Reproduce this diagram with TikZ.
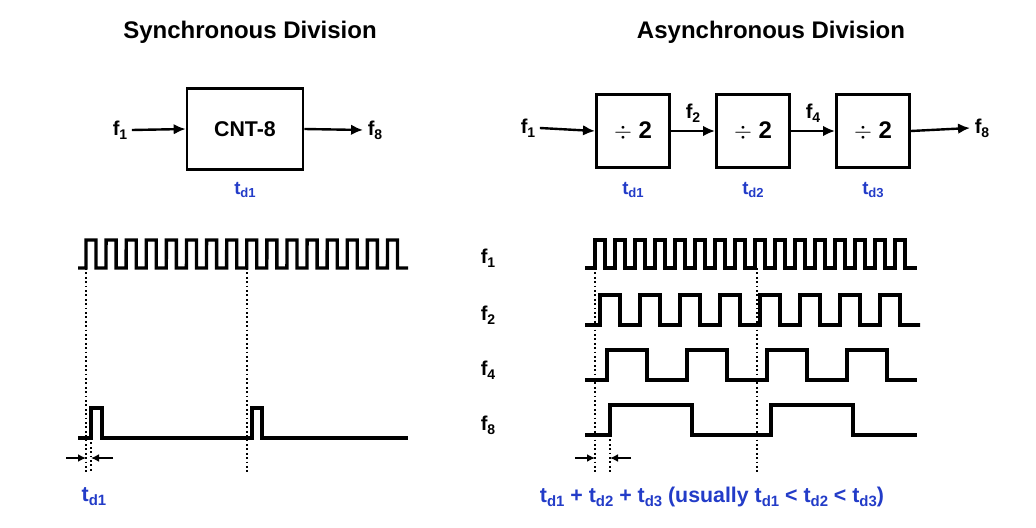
\documentclass[tikz,border=0pt]{standalone}
\usepackage{fontspec}
\setmainfont{Liberation Sans}
\usetikzlibrary{arrows.meta}
\definecolor{tblue}{RGB}{35,60,200}
\newcommand{\mysb}[1]{\raisebox{-0.35ex}{\fontsize{0.7em}{1em}\selectfont #1}}
\begin{document}
\begin{tikzpicture}[x=0.75pt,y=-0.75pt,font=\bfseries,
  wave/.style={line width=2.5pt,line join=miter},
  blk/.style={draw,line width=2pt,minimum width=87pt,minimum height=61pt,inner sep=0pt,font=\bfseries\fontsize{16}{16}\selectfont},
  sblk/.style={draw,line width=2pt,minimum width=55pt,minimum height=55pt,inner sep=0pt,font=\bfseries\fontsize{18}{18}\selectfont},
  arr/.style={line width=1.8pt,-{Latex[length=9pt,width=8pt]}},
  lbl/.style={font=\bfseries\fontsize{15}{15}\selectfont},
  tdl/.style={text=tblue,font=\bfseries\fontsize{14}{14}\selectfont},
  ttl/.style={font=\bfseries\fontsize{18}{18}\selectfont},
  dot/.style={line width=1.3pt,dotted},
  tick/.style={line width=1.3pt,-{Latex[length=6pt,width=6pt]}}]
\useasboundingbox (0,0) rectangle (1036,528);
% titles
\node[ttl] (t1) at (250,32) {Synchronous Division};
\node[ttl] (t2) at (771,32) {Asynchronous Division};
% left block
\node[blk] (cnt) at (245,129) {CNT-8};
\node[lbl] (lf1) at (120,130) {f\mysb{1}};
\node[lbl] (lf8) at (375,130) {f\mysb{8}};
\draw[arr] (lf1.east) -- (cnt.west);
\draw[arr] (cnt.east) -- (lf8.west);
\node[tdl] (ltd) at (245,190) {t\mysb{d1}};
% right blocks
\node[sblk] (d1) at (633,131) {$\div$ 2};
\node[sblk] (d2) at (753,131) {$\div$ 2};
\node[sblk] (d3) at (873,131) {$\div$ 2};
\node[lbl] (rf1) at (528,128) {f\mysb{1}};
\node[lbl] (rf8) at (982,128) {f\mysb{8}};
\draw[arr] (rf1.east) -- (d1.west);
\draw[arr] (d1.east) -- node[lbl,above=2pt] {f\mysb{2}} (d2.west);
\draw[arr] (d2.east) -- node[lbl,above=2pt] {f\mysb{4}} (d3.west);
\draw[arr] (d3.east) -- (rf8.west);
\node[tdl] (td1) at (633,190) {t\mysb{d1}};
\node[tdl] (td2) at (753,190) {t\mysb{d2}};
\node[tdl] (td3) at (873,190) {t\mysb{d3}};
% left waveforms
\draw[wave] (78,268) -- (86,268) foreach \k in {0,...,15} { -- ({86+20.1*\k},240) -- ({96+20.1*\k},240) -- ({96+20.1*\k},268) -- ({106+20.1*\k},268)} -- (408,268);
\draw[wave] (78,438) -- (91,438) -- (91,408) -- (102,408) -- (102,438) -- (252,438) -- (252,408) -- (262,408) -- (262,438) -- (408,438);
\draw[dot] (86,268) -- (86,472);
\draw[dot] (91,438) -- (91,472);
\draw[dot] (247,268) -- (247,472);
\coordinate (la1) at (66,458); \coordinate (la2) at (113,458);
\draw[tick] (la1) -- (86,458);
\draw[tick] (la2) -- (91,458);
\node[tdl,font=\bfseries\fontsize{16}{16}\selectfont] (ltd2) at (94,497) {t\mysb{d1}};
% right waveforms
\node[lbl] (wf1) at (488,258) {f\mysb{1}};
\node[lbl] (wf2) at (488,315) {f\mysb{2}};
\node[lbl] (wf4) at (488,370) {f\mysb{4}};
\node[lbl] (wf8) at (488,425) {f\mysb{8}};
\draw[wave] (585,268) -- (595,268) foreach \k in {0,...,15} { -- ({595+20*\k},240) -- ({605+20*\k},240) -- ({605+20*\k},268) -- ({615+20*\k},268)} -- (917,268);
\draw[wave] (585,325) -- (600,325) foreach \k in {0,...,7} { -- ({600+40*\k},295) -- ({620+40*\k},295) -- ({620+40*\k},325) -- ({640+40*\k},325)} -- (917,325);
\draw[wave] (585,380) -- (607,380) foreach \s in {607,687,767} { -- (\s,350) -- ({\s+40},350) -- ({\s+40},380) -- ({\s+80},380)} -- (847,350) -- (887,350) -- (887,380) -- (917,380);
\draw[wave] (585,435) -- (610,435) -- (610,405) -- (692,405) -- (692,435) -- (771,435) -- (771,405) -- (853,405) -- (853,435) -- (917,435);
\draw[dot] (595,268) -- (595,472);
\draw[dot] (610,435) -- (610,472);
\draw[dot] (757,268) -- (757,472);
\coordinate (ra1) at (575,458); \coordinate (ra2) at (631,458);
\draw[tick] (ra1) -- (595,458);
\draw[tick] (ra2) -- (610,458);
\node[tdl,font=\bfseries\fontsize{16}{16}\selectfont] (sum) at (712,497) {t\mysb{d1} + t\mysb{d2} + t\mysb{d3} (usually t\mysb{d1} < t\mysb{d2} < t\mysb{d3})};
\end{tikzpicture}
\end{document}
